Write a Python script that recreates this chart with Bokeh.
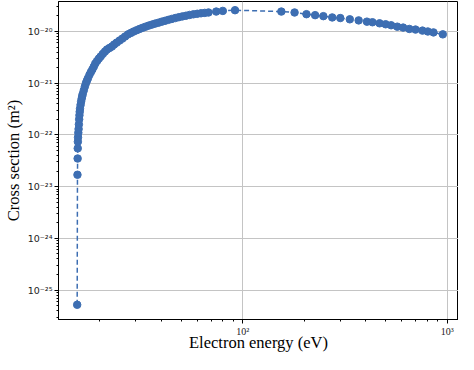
from bokeh.plotting import figure
from bokeh.models import Range1d, FixedTicker, CustomJSTickFormatter
from bokeh.embed import file_html
from bokeh.resources import INLINE

# Electron energy (eV)
energy = [
    15.50, 15.55, 15.58, 15.60, 15.62, 15.65, 15.70, 15.75, 15.80, 15.85,
    15.90, 15.95, 16.0, 16.1, 16.2, 16.3, 16.4, 16.5, 16.7, 16.9,
    17.1, 17.3, 17.5, 17.8, 18.1, 18.4, 18.7, 19.0, 19.4, 19.8,
    20.2, 20.7, 21.2, 21.7, 22.3, 22.9, 23.5, 24.2, 25.0, 25.8,
    26.6, 27.5, 28.4, 29.3, 30.3, 31.3, 32.4, 33.5, 34.7, 36.0,
    37.3, 38.7, 40.2, 41.7, 43.3, 45.0, 46.8, 48.7, 50.7, 52.8,
    55.0, 57.4, 59.9, 62.5, 65.2, 68.0, 74.2, 79.9, 91.7,
    154.5, 179.3, 205, 226, 248, 274, 300, 334, 369, 405,
    431, 467, 500, 532, 570, 609, 653, 700, 757, 804, 857, 952,
]
# Cross section (m^2)
cross_section = [
    5.2e-26, 1.7e-23, 3.5e-23, 5.5e-23, 7.4e-23, 9.0e-23, 1.1e-22, 1.3e-22, 1.6e-22, 2.0e-22,
    2.4e-22, 2.8e-22, 3.2e-22, 3.8e-22, 4.4e-22, 5.0e-22, 5.6e-22, 6.2e-22, 7.3e-22, 8.6e-22,
    1.0e-21, 1.12e-21, 1.25e-21, 1.45e-21, 1.65e-21, 1.85e-21, 2.1e-21, 2.4e-21, 2.7e-21, 3.0e-21,
    3.3e-21, 3.7e-21, 4.1e-21, 4.5e-21, 4.8e-21, 5.1e-21, 5.6e-21, 6.1e-21, 6.7e-21, 7.3e-21,
    8.0e-21, 8.8e-21, 9.4e-21, 1.0e-20, 1.06e-20, 1.12e-20, 1.18e-20, 1.24e-20, 1.30e-20, 1.36e-20,
    1.42e-20, 1.48e-20, 1.55e-20, 1.61e-20, 1.68e-20, 1.75e-20, 1.82e-20, 1.89e-20, 1.96e-20, 2.02e-20,
    2.09e-20, 2.15e-20, 2.20e-20, 2.25e-20, 2.29e-20, 2.33e-20, 2.43e-20, 2.50e-20, 2.58e-20,
    2.43e-20, 2.33e-20, 2.16e-20, 2.07e-20, 1.98e-20, 1.87e-20, 1.82e-20, 1.72e-20, 1.64e-20, 1.55e-20,
    1.51e-20, 1.44e-20, 1.38e-20, 1.32e-20, 1.24e-20, 1.19e-20, 1.12e-20, 1.09e-20, 1.04e-20, 1.0e-20, 9.6e-21, 8.8e-21,
]

x_major = [10, 100, 1000]
y_major = [1e-26, 1e-25, 1e-24, 1e-23, 1e-22, 1e-21, 1e-20, 1e-19]

BLUE = "#3d6eb2"

p = figure(width=458, height=354, x_axis_type="log", y_axis_type="log",
           x_range=Range1d(12.56, 1136), y_range=Range1d(2.7e-26, 10 ** -19.42),
           output_backend="svg", toolbar_location=None,
           min_border_left=0, min_border_right=0, min_border_top=1, min_border_bottom=0)

p.line(energy, cross_section, line_color=BLUE, line_width=1.5, line_dash="5 3")
p.scatter(energy, cross_section, size=7.5, fill_color=BLUE, line_color=BLUE)

x_minor = [m * d for d in (10, 100) for m in range(2, 10)]
y_minor = [m * d for d in y_major for m in range(2, 10)]
p.xaxis.ticker = FixedTicker(ticks=x_major, minor_ticks=x_minor)
p.yaxis.ticker = FixedTicker(ticks=y_major, minor_ticks=y_minor)

fmt = CustomJSTickFormatter(code="""
const e = Math.round(Math.log10(tick));
const sup = {'-':'\u207b','0':'\u2070','1':'\u00b9','2':'\u00b2','3':'\u00b3','4':'\u2074','5':'\u2075','6':'\u2076','7':'\u2077','8':'\u2078','9':'\u2079'};
return '10' + String(e).split('').map(c => sup[c]).join('');
""")
p.xaxis.formatter = fmt
p.yaxis.formatter = fmt

for ax in (p.xaxis, p.yaxis):
    ax.axis_line_color = "black"
    ax.axis_line_width = 1
    ax.major_tick_line_color = "black"
    ax.minor_tick_line_color = "black"
    ax.major_tick_out = 4
    ax.major_tick_in = 0
    ax.minor_tick_out = 2
    ax.minor_tick_in = 0
    ax.major_label_text_color = "#222222"
    ax.axis_label_text_color = "black"
    ax.axis_label_text_font = "Liberation Serif"
    ax.axis_label_text_font_style = "normal"
    ax.axis_label_text_font_size = "16.5px"

p.xaxis.major_label_text_font = "Liberation Serif"
p.xaxis.major_label_text_font_size = "10px"
p.yaxis.major_label_text_font = "DejaVu Sans"
p.yaxis.major_label_text_font_size = "9.5px"
p.xaxis.major_label_standoff = 2
p.yaxis.major_label_standoff = 2
p.xaxis.axis_label_standoff = -7
p.yaxis.axis_label_standoff = 2

p.xaxis.axis_label = "Electron energy (eV)"
p.yaxis.axis_label = "Cross section (m\u00b2)"

p.xgrid.grid_line_color = "#c4c4c4"
p.ygrid.grid_line_color = "#c4c4c4"
p.xgrid.grid_line_width = 1
p.ygrid.grid_line_width = 1

p.outline_line_color = "black"
p.outline_line_width = 1
p.background_fill_color = "white"
p.border_fill_color = "white"

open("out.html", "w").write(file_html(p, INLINE))
